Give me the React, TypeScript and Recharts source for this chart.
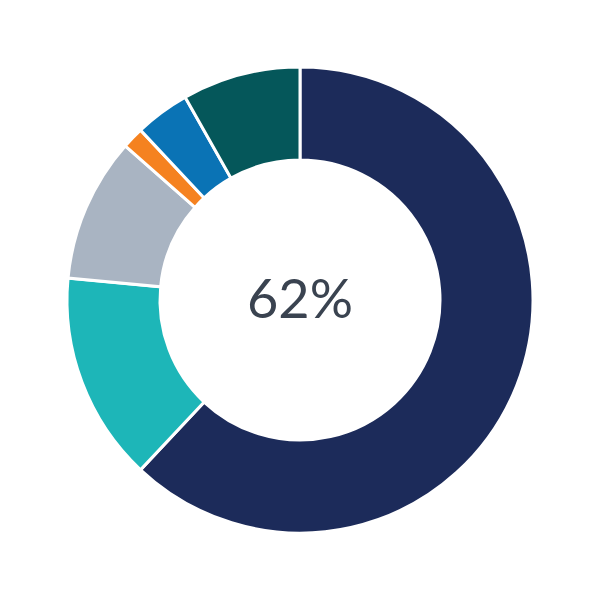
import React from 'react';
import { PieChart, Pie, Cell } from 'recharts';

const categories = ['Navy', 'Teal', 'Gray', 'Orange', 'Blue', 'Green'];
const shares = [62, 14.5, 10, 1.5, 3.8, 8.2];
const colors = ['#1c2b5a', '#1db6b8', '#a9b4c2', '#f58220', '#0a73b5', '#05575a'];
const centerLabel = '62%';

const data = categories.map((name, i) => ({ name, value: shares[i] }));

export default function App() {
  return (
    <div style={{ width: 600, height: 600, margin: -8, position: 'relative', background: '#fff' }}>
      <PieChart width={600} height={600} margin={{ top: 0, right: 0, bottom: 0, left: 0 }}>
        <Pie
          data={data}
          dataKey="value"
          cx="50%"
          cy="50%"
          innerRadius={140}
          outerRadius={233}
          startAngle={90}
          endAngle={-270}
          stroke="#ffffff"
          strokeWidth={3}
          isAnimationActive={false}
        >
          {data.map((d, i) => (
            <Cell key={d.name} fill={colors[i]} />
          ))}
        </Pie>
        <text
          x={300}
          y={297}
          textAnchor="middle"
          dominantBaseline="central"
          fontFamily="Lato, sans-serif"
          fontWeight={400}
          fontSize={54}
          fill="#3a4350"
        >
          {centerLabel}
        </text>
      </PieChart>
    </div>
  );
}
